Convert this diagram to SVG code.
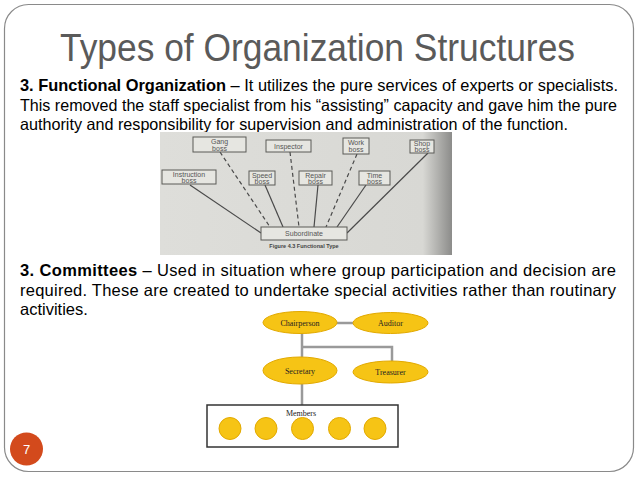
<svg xmlns="http://www.w3.org/2000/svg" width="638" height="478" viewBox="0 0 638 478">
<defs>
<style>
text{font-family:"Liberation Sans",Arial,sans-serif}
.body{font-size:16.5px;fill:#000}
.b{font-weight:bold}
.box{fill:#e6e6e1;stroke:#5a5a56;stroke-width:1}
.bt{font-size:7px;fill:#555;text-anchor:middle}
.sl{stroke:#4a4a4a;stroke-width:1.2;fill:none}
.dl{stroke:#4a4a4a;stroke-width:1.2;fill:none;stroke-dasharray:4 3}
.ell{fill:#f6c415;stroke:#e2a900;stroke-width:1}
.et{font-family:"Liberation Serif",serif;font-size:8px;fill:#222;text-anchor:middle}
.cl{stroke:#9a9a9a;stroke-width:2.5;fill:none}
</style>
<linearGradient id="shade" x1="0" y1="0" x2="1" y2="0">
<stop offset="0" stop-color="#dededa"/>
<stop offset="0.9" stop-color="#d8d8d4"/>
<stop offset="1" stop-color="#8c8c8a"/>
</linearGradient>
</defs>
<rect x="0" y="0" width="638" height="478" fill="#fff"/>
<rect x="4.5" y="4.5" width="629" height="467" rx="24" ry="24" fill="none" stroke="#8a8a8a" stroke-width="1.2"/>
<text x="60" y="61" font-size="38" fill="#5a5a5a" textLength="515" lengthAdjust="spacingAndGlyphs">Types of Organization Structures</text>
<text class="body" x="20" y="91" textLength="598" lengthAdjust="spacingAndGlyphs"><tspan class="b">3.  Functional Organization</tspan> – It utilizes the pure services of experts or specialists.</text>
<text class="body" x="20" y="111" textLength="597" lengthAdjust="spacingAndGlyphs">This removed the staff specialist from his “assisting” capacity and gave him the pure</text>
<text class="body" x="20" y="130" textLength="548" lengthAdjust="spacingAndGlyphs">authority and responsibility for supervision and administration of the function.</text>

<g id="functional-figure">
<rect x="160" y="132" width="292" height="123" fill="url(#shade)"/>
<g id="connectors-functional">
<line class="sl" x1="190" y1="185" x2="261" y2="233"/>
<line class="dl" x1="220" y1="152" x2="270" y2="227"/>
<line class="sl" x1="265" y1="185" x2="283" y2="227"/>
<line class="dl" x1="290" y1="152" x2="299" y2="227"/>
<line class="sl" x1="318" y1="185" x2="314" y2="227"/>
<line class="dl" x1="357" y1="154" x2="326" y2="227"/>
<line class="sl" x1="366" y1="185" x2="337" y2="227"/>
<line class="sl" x1="428" y1="153" x2="347" y2="233"/>
</g>
<g id="gang-boss"><rect class="box" x="193" y="137" width="53" height="15"/><text class="bt" x="219.5" y="143.5">Gang</text><text class="bt" x="219.5" y="150.5">boss</text></g>
<g id="inspector"><rect class="box" x="266" y="140" width="45" height="12"/><text class="bt" x="288.5" y="148.5">Inspector</text></g>
<g id="work-boss"><rect class="box" x="343" y="138" width="26" height="16"/><text class="bt" x="356" y="145">Work</text><text class="bt" x="356" y="152">boss</text></g>
<g id="shop-boss"><rect class="box" x="410" y="140" width="24" height="13"/><text class="bt" x="422" y="146">Shop</text><text class="bt" x="422" y="152">boss</text></g>
<g id="instruction-boss"><rect class="box" x="162" y="170" width="54" height="14"/><text class="bt" x="189" y="176.5">Instruction</text><text class="bt" x="189" y="183">boss</text></g>
<g id="speed-boss"><rect class="box" x="249" y="171" width="26" height="14"/><text class="bt" x="262" y="177.5">Speed</text><text class="bt" x="262" y="184">boss</text></g>
<g id="repair-boss"><rect class="box" x="299" y="171" width="33" height="14"/><text class="bt" x="315.5" y="177.5">Repair</text><text class="bt" x="315.5" y="184">boss</text></g>
<g id="time-boss"><rect class="box" x="359" y="171" width="31" height="14"/><text class="bt" x="374.5" y="177.5">Time</text><text class="bt" x="374.5" y="184">boss</text></g>
<g id="subordinate"><rect class="box" x="261" y="227" width="86" height="13"/><text class="bt" x="304" y="236">Subordinate</text></g>
<text x="304" y="248" font-size="5.5" font-weight="bold" fill="#444" text-anchor="middle">Figure 4.3 Functional Type</text>
</g>

<text class="body" x="20" y="276" textLength="596" lengthAdjust="spacing"><tspan class="b">3.  Committees</tspan> – Used in situation where group participation and decision are</text>
<text class="body" x="20" y="296" textLength="596" lengthAdjust="spacing">required. These are created to undertake special activities rather than routinary</text>
<text class="body" x="20" y="315">activities.</text>

<g id="committee-figure">
<g id="connectors-committee">
<line class="cl" x1="337" y1="323" x2="353" y2="323"/>
<polyline class="cl" points="302,333 302,357"/>
<polyline class="cl" points="302,347 392,347 392,361"/>
<line class="cl" x1="302" y1="384" x2="302" y2="405"/>
</g>
<g id="chairperson"><ellipse class="ell" cx="300" cy="322.5" rx="37" ry="11"/><text class="et" x="300" y="325.5">Chairperson</text></g>
<g id="auditor"><ellipse class="ell" cx="390.5" cy="323" rx="37.5" ry="10.5"/><text class="et" x="390.5" y="326">Auditor</text></g>
<g id="secretary"><ellipse class="ell" cx="300" cy="370.5" rx="37" ry="13.5"/><text class="et" x="300" y="373.5">Secretary</text></g>
<g id="treasurer"><ellipse class="ell" cx="390.5" cy="372" rx="37.5" ry="11"/><text class="et" x="390.5" y="375">Treasurer</text></g>
<g id="members">
<rect x="207" y="405" width="191" height="42" fill="#fff" stroke="#333" stroke-width="1.5"/>
<text class="et" x="301" y="415.5">Members</text>
<circle class="ell" cx="230" cy="428.5" r="11"/>
<circle class="ell" cx="266" cy="428.5" r="11"/>
<circle class="ell" cx="302.5" cy="428.5" r="11"/>
<circle class="ell" cx="339.5" cy="428.5" r="11"/>
<circle class="ell" cx="375" cy="428.5" r="11"/>
</g>
</g>

<g id="page-number">
<circle cx="26.5" cy="449" r="16.5" fill="#d34a1c"/>
<text x="26.5" y="454" font-size="13" fill="#fff" text-anchor="middle">7</text>
</g>
</svg>
